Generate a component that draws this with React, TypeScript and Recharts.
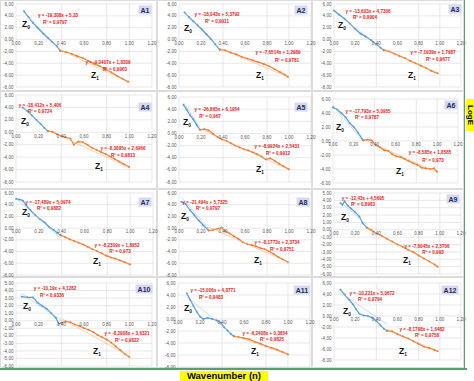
import React from "react";
import { LineChart, Line, XAxis, YAxis, CartesianGrid, ReferenceDot } from "recharts";

// x = wavenumber n, y = logE ; Z0 = blue segment, Z1 = orange segment
const xTicks = [0, 0.2, 0.4, 0.6, 0.8, 1.0, 1.2];
const yTicksEven = [6, 4, 2, 0, -2, -4, -6, -8];
const yTicksShort = [6, 4, 2, 0, -2, -4, -6];
const yTicksUnit = [5, 4, 3, 2, 1, 0, -1, -2, -3, -4, -5, -6];

const a1Z0 = [[0.07, 4.8], [0.11, 3.8], [0.15, 2.8], [0.19, 2.0], [0.24, 1.0], [0.28, 0.3], [0.32, -0.4], [0.36, -1.1], [0.39, -1.9]];
const a1Z1 = [[0.39, -1.9], [0.44, -2.1], [0.49, -2.4], [0.54, -2.8], [0.59, -3.1], [0.64, -3.6], [0.69, -4.1], [0.74, -4.5], [0.79, -5.0], [0.84, -5.5], [0.89, -6.1], [0.94, -6.6], [0.99, -7.1]];
const a2Z0 = [[0.05, 4.6], [0.09, 3.8], [0.13, 3.1], [0.17, 2.4], [0.21, 1.7], [0.25, 0.9], [0.29, 0.1], [0.33, -0.8], [0.37, -1.7]];
const a2Z1 = [[0.37, -1.7], [0.42, -1.8], [0.47, -2.2], [0.52, -2.5], [0.57, -2.9], [0.62, -3.2], [0.67, -3.5], [0.72, -3.8], [0.77, -4.1], [0.82, -4.5], [0.87, -5.0], [0.92, -5.5], [0.96, -5.9], [0.99, -6.3]];
const a3Z0 = [[0.0, 4.9], [0.05, 4.2], [0.1, 3.5], [0.15, 2.7], [0.2, 1.8], [0.25, 1.0], [0.3, 0.5], [0.35, -0.1], [0.4, -0.8], [0.44, -1.4], [0.47, -1.8]];
const a3Z1 = [[0.47, -1.8], [0.52, -2.0], [0.57, -2.4], [0.62, -2.8], [0.67, -3.1], [0.72, -3.6], [0.77, -4.0], [0.82, -4.4], [0.87, -4.8], [0.92, -5.3], [0.98, -5.7]];
const a4Z0 = [[0.06, 4.0], [0.1, 3.4], [0.14, 2.7], [0.18, 2.0], [0.22, 1.3], [0.25, 0.7], [0.28, 0.2]];
const a4Z1 = [[0.28, 0.2], [0.32, 0.1], [0.36, -0.3], [0.4, -0.6], [0.44, -0.8], [0.48, -1.0], [0.51, -2.0], [0.55, -1.5], [0.59, -1.6], [0.63, -2.0], [0.67, -2.5], [0.71, -2.8], [0.75, -3.2], [0.79, -3.5], [0.83, -3.9], [0.87, -4.3], [0.91, -4.7], [0.95, -5.1], [1.0, -5.6]];
const a5Z0 = [[0.04, 4.7], [0.07, 3.9], [0.1, 3.0], [0.13, 2.3], [0.16, 1.4], [0.19, 0.6]];
const a5Z1 = [[0.19, 0.6], [0.23, 0.7], [0.27, 0.5], [0.31, -0.1], [0.35, -0.6], [0.39, -1.0], [0.43, -1.2], [0.47, -1.6], [0.51, -2.0], [0.55, -2.3], [0.59, -2.6], [0.63, -2.8], [0.67, -3.1], [0.71, -3.4], [0.75, -3.8], [0.79, -4.3], [0.83, -4.1], [0.87, -4.5], [0.91, -5.0], [0.95, -5.4], [1.0, -5.9]];
const a6Z0 = [[0.0, 4.8], [0.04, 4.5], [0.08, 4.0], [0.12, 3.4], [0.16, 2.6], [0.2, 2.0], [0.24, 1.2], [0.29, 0.1]];
const a6Z1 = [[0.29, 0.1], [0.33, 0.2], [0.37, 0.1], [0.41, -0.6], [0.45, -0.9], [0.49, -1.3], [0.53, -1.4], [0.57, -1.9], [0.61, -2.2], [0.65, -2.3], [0.69, -2.6], [0.73, -2.9], [0.77, -3.2], [0.81, -3.4], [0.85, -3.8], [0.89, -3.9], [0.93, -4.0], [0.97, -3.9], [1.0, -4.4]];
const a7Z0 = [[0.0, 5.0], [0.03, 4.9], [0.06, 4.7], [0.09, 3.9], [0.13, 3.0], [0.17, 2.2], [0.21, 1.5], [0.25, 1.0], [0.29, 0.2], [0.33, -0.3], [0.36, -0.8], [0.39, -1.2]];
const a7Z1 = [[0.39, -1.2], [0.43, -1.5], [0.47, -1.9], [0.51, -2.2], [0.55, -2.5], [0.59, -2.8], [0.63, -3.2], [0.67, -3.6], [0.71, -3.9], [0.75, -4.3], [0.79, -4.7], [0.83, -5.0], [0.87, -5.2], [0.91, -5.5], [0.95, -5.8], [1.0, -6.2]];
const a8Z0 = [[0.02, 4.5], [0.06, 4.1], [0.1, 3.1], [0.14, 2.2], [0.18, 1.3], [0.22, 0.5], [0.27, -0.4]];
const a8Z1 = [[0.27, -0.4], [0.31, -0.3], [0.35, -0.1], [0.39, 0.1], [0.42, -0.5], [0.46, -0.9], [0.5, -1.4], [0.54, -1.8], [0.58, -2.4], [0.62, -2.7], [0.66, -2.9], [0.7, -3.1], [0.74, -3.4], [0.78, -3.6], [0.82, -4.0], [0.86, -4.4], [0.9, -4.9], [0.94, -5.3], [0.99, -5.8]];
const a9Z0 = [[0.06, 3.6], [0.08, 3.4], [0.1, 3.9], [0.13, 3.3], [0.16, 2.9], [0.2, 2.4], [0.24, 1.8], [0.27, 0.9], [0.31, 0.3]];
const a9Z1 = [[0.31, 0.3], [0.35, 0.0], [0.4, -0.5], [0.45, -0.8], [0.5, -1.2], [0.55, -1.6], [0.6, -2.0], [0.65, -2.3], [0.7, -2.7], [0.75, -3.0], [0.8, -3.5], [0.85, -3.9], [0.9, -4.3], [0.95, -4.7], [0.98, -5.0]];
const a10Z0 = [[0.05, 3.2], [0.1, 3.1], [0.15, 3.1], [0.19, 2.4], [0.23, 2.0], [0.27, 1.6], [0.31, 1.0], [0.35, 0.4], [0.38, -0.4], [0.4, -0.3]];
const a10Z1 = [[0.4, -0.3], [0.44, -0.1], [0.48, -0.2], [0.52, -0.5], [0.56, -0.7], [0.6, -1.0], [0.64, -1.2], [0.68, -1.5], [0.72, -1.9], [0.76, -2.2], [0.8, -2.5], [0.84, -2.9], [0.88, -3.4], [0.92, -3.9], [0.96, -4.4], [1.0, -4.8]];
const a11Z0 = [[0.08, 4.3], [0.11, 3.2], [0.14, 2.2], [0.17, 1.2], [0.2, 0.4], [0.23, 0.0], [0.27, 0.2], [0.31, 0.0], [0.35, -0.2], [0.39, -0.6], [0.42, -1.4], [0.45, -1.9], [0.48, -2.5], [0.51, -2.9]];
const a11Z1 = [[0.51, -2.9], [0.55, -3.0], [0.6, -3.2], [0.65, -3.4], [0.7, -3.8], [0.75, -4.1], [0.8, -4.5], [0.85, -4.8], [0.9, -5.1], [0.95, -5.5], [1.0, -5.9]];
const a12Z0 = [[0.06, 4.8], [0.1, 3.9], [0.14, 3.0], [0.18, 2.1], [0.21, 1.2], [0.24, 0.4], [0.28, 0.1], [0.32, 0.0], [0.36, -0.3], [0.4, -0.9], [0.44, -1.7], [0.47, -2.3], [0.5, -2.7]];
const a12Z1 = [[0.5, -2.7], [0.55, -2.8], [0.6, -3.3], [0.65, -3.7], [0.7, -4.1], [0.75, -4.6], [0.8, -5.1], [0.85, -5.6], [0.9, -5.8], [0.95, -6.2], [0.98, -6.4]];

// linear trendline end points
const fitZ0 = [
  [[0.07, 4.6], [0.39, -1.7]], [[0.05, 4.5], [0.37, -1.6]], [[0.0, 4.7], [0.47, -1.7]],
  [[0.06, 4.1], [0.28, 0.2]], [[0.04, 5.1], [0.19, 1.0]], [[0.0, 5.1], [0.29, -0.1]],
  [[0.0, 5.1], [0.39, -1.7]], [[0.02, 5.3], [0.27, -0.1]], [[0.06, 3.8], [0.31, 0.7]],
  [[0.05, 3.6], [0.42, -0.15]], [[0.08, 3.7], [0.51, -2.8]], [[0.06, 4.3], [0.5, -1.5]],
];
const fitZ1 = [
  [[0.39, -1.7], [0.99, -7.2]], [[0.37, -1.5], [0.99, -6.3]], [[0.47, -1.6], [0.98, -5.6]],
  [[0.28, 0.35], [1.0, -5.7]], [[0.19, 0.8], [1.0, -6.0]], [[0.29, 0.3], [1.0, -4.5]],
  [[0.39, -1.3], [1.0, -6.3]], [[0.27, 0.2], [0.99, -5.8]], [[0.31, 0.2], [0.98, -4.9]],
  [[0.4, 0.3], [1.0, -4.7]], [[0.51, -2.8], [1.0, -5.9]], [[0.5, -2.4], [0.98, -6.4]],
];

const names = ["A1", "A2", "A3", "A4", "A5", "A6", "A7", "A8", "A9", "A10", "A11", "A12"];
const z0Series = [a1Z0, a2Z0, a3Z0, a4Z0, a5Z0, a6Z0, a7Z0, a8Z0, a9Z0, a10Z0, a11Z0, a12Z0];
const z1Series = [a1Z1, a2Z1, a3Z1, a4Z1, a5Z1, a6Z1, a7Z1, a8Z1, a9Z1, a10Z1, a11Z1, a12Z1];
const yTickSets = [
  yTicksEven, yTicksEven, yTicksEven, yTicksEven, yTicksEven, yTicksShort,
  yTicksEven, yTicksEven, yTicksUnit, yTicksUnit, yTicksEven, yTicksEven,
];
const eqZ0 = [
  ["y = -19,308x + 5,33", "R² = 0,9797"], ["y = -18,043x + 5,3792", "R² = 0,9911"],
  ["y = -13,603x + 4,7306", "R² = 0,9904"], ["y = -18,412x + 5,406", "R² = 0,9724"],
  ["y = -26,865x + 6,1954", "R² = 0,967"], ["y = -17,793x + 5,0955", "R² = 0,9787"],
  ["y = -17,489x + 5,0974", "R² = 0,9882"], ["y = -21,494x + 5,7325", "R² = 0,9797"],
  ["y = -12,43x + 4,5695", "R² = 0,8963"], ["y = -10,19x + 4,1282", "R² = 0,9336"],
  ["y = -15,006x + 4,8771", "R² = 0,9483"], ["y = -10,221x + 5,0672", "R² = 0,9794"],
];
const eqZ1 = [
  ["y = -9,0407x + 1,8309", "R² = 0,9963"], ["y = -7,6514x + 1,2989", "R² = 0,9781"],
  ["y = -7,1939x + 1,7987", "R² = 0,9677"], ["y = -8,3895x + 2,6966", "R² = 0,9813"],
  ["y = -8,9924x + 2,5431", "R² = 0,9912"], ["y = -8,585x + 1,8585", "R² = 0,973"],
  ["y = -8,2309x + 1,8952", "R² = 0,973"], ["y = -8,1773x + 2,3734", "R² = 0,9751"],
  ["y = -7,6045x + 2,5706", "R² = 0,993"], ["y = -8,2908x + 3,6321", "R² = 0,9822"],
  ["y = -6,2408x + 0,3654", "R² = 0,9825"], ["y = -8,1798x + 1,6482", "R² = 0,9758"],
];

// layout: plot box [left, right, top, bottom] in page px, and label anchors
const plotBoxes = [
  [16, 152, 4, 87], [179, 311, 4, 87], [334, 461, 4, 87],
  [16, 152, 95, 182], [179, 311, 97, 182], [333, 458, 99, 183],
  [16, 153, 193, 275], [179, 311, 193, 275], [334, 461, 193, 274],
  [16, 152, 283, 366], [178, 310, 283, 367], [334, 461, 283, 360],
];
const anchors = [
  { e0: [58, 16, 55, 23], e1: [108, 63, 115, 70], z0: [26, 25], z1: [95, 76], tag: [145, 10] },
  { e0: [217, 15, 217, 22], e1: [278, 53, 287, 61], z0: [188, 29], z1: [260, 76], tag: [301, 10] },
  { e0: [368, 12, 365, 18], e1: [433, 53, 438, 60], z0: [342, 26], z1: [412, 76], tag: [455, 9] },
  { e0: [40, 106, 40, 112], e1: [123, 149, 123, 156], z0: [25, 122], z1: [99, 167], tag: [145, 107] },
  { e0: [217, 110, 210, 117], e1: [277, 147, 278, 154], z0: [187, 123], z1: [260, 170], tag: [301, 107] },
  { e0: [368, 112, 367, 118], e1: [430, 153, 433, 161], z0: [340, 128], z1: [400, 172], tag: [451, 105] },
  { e0: [48, 203, 49, 209], e1: [117, 246, 120, 252], z0: [26, 213], z1: [97, 262], tag: [145, 202] },
  { e0: [205, 203, 208, 209], e1: [277, 243, 282, 250], z0: [185, 217], z1: [258, 261], tag: [303, 202] },
  { e0: [363, 199, 363, 205], e1: [427, 247, 433, 253], z0: [345, 218], z1: [407, 261], tag: [453, 199] },
  { e0: [55, 289, 52, 296], e1: [127, 334, 127, 341], z0: [27, 307], z1: [97, 352], tag: [144, 289] },
  { e0: [213, 291, 211, 298], e1: [265, 334, 272, 340], z0: [188, 309], z1: [255, 352], tag: [302, 290] },
  { e0: [372, 294, 370, 300], e1: [422, 330, 427, 336], z0: [347, 312], z1: [403, 352], tag: [450, 290] },
];

const BLUE = "#5b9bd5";
const ORANGE = "#ed7d31";
const RED = "#e8231c";
const FONT = "'Liberation Sans', Arial, sans-serif";

const toPts = (arr: number[][]) => arr.map(([x, y]) => ({ x, y }));
const fmt = (v: number) => v.toFixed(2).replace(".", ",");

function Pos({ x, y, style, children }: any) {
  return (
    <div
      style={{
        position: "absolute",
        left: x,
        top: y,
        transform: "translate(-50%, -50%)",
        whiteSpace: "nowrap",
        lineHeight: 1,
        ...style,
      }}
    >
      {children}
    </div>
  );
}

function Panel({ i }: { i: number }) {
  const [L, R, T, B] = plotBoxes[i];
  const YW = 17;
  const m = { top: 4, right: 9, bottom: 4, left: 0 };
  const ticks = yTickSets[i];
  const w = R - L + YW + m.right;
  const h = B - T + m.top + m.bottom;
  return (
    <div style={{ position: "absolute", left: L - YW, top: T - m.top }}>
      <LineChart width={w} height={h} margin={m}>
        <CartesianGrid stroke="#d9d9d9" strokeWidth={0.6} />
        <XAxis type="number" dataKey="x" domain={[0, 1.2]} ticks={xTicks} hide />
        <YAxis
          type="number"
          domain={[ticks[ticks.length - 1], ticks[0]]}
          ticks={ticks}
          interval={0}
          width={YW}
          axisLine={false}
          tickLine={false}
          tickSize={0}
          tickMargin={2.5}
          tickFormatter={fmt}
          tick={{ fontSize: 4.6, fill: "#595959" }}
        />
        {xTicks.map((t) => (
          <ReferenceDot
            key={t}
            x={t}
            y={0}
            r={0}
            fill="none"
            stroke="none"
            label={{ value: fmt(t), position: "bottom", offset: 2, fontSize: 4.6, fill: "#595959" }}
          />
        ))}
        <Line
          data={toPts(z0Series[i])}
          dataKey="y"
          type="linear"
          stroke={BLUE}
          strokeWidth={1.2}
          dot={{ r: 0.8, fill: BLUE, stroke: BLUE, strokeWidth: 0.3 }}
          activeDot={false}
          isAnimationActive={false}
        />
        <Line
          data={toPts(z1Series[i])}
          dataKey="y"
          type="linear"
          stroke={ORANGE}
          strokeWidth={1.2}
          dot={{ r: 0.8, fill: ORANGE, stroke: ORANGE, strokeWidth: 0.3 }}
          activeDot={false}
          isAnimationActive={false}
        />
        <Line
          data={toPts(fitZ0[i])}
          dataKey="y"
          type="linear"
          stroke="#9dc3e6"
          strokeWidth={0.6}
          dot={false}
          activeDot={false}
          isAnimationActive={false}
        />
        <Line
          data={toPts(fitZ1[i])}
          dataKey="y"
          type="linear"
          stroke="#f4b183"
          strokeWidth={0.6}
          dot={false}
          activeDot={false}
          isAnimationActive={false}
        />
      </LineChart>
    </div>
  );
}

function Labels({ i }: { i: number }) {
  const a = anchors[i];
  const eq = { fontSize: 4.6, fontWeight: 700, color: RED };
  const z = { fontSize: 8.5, fontWeight: 700, color: "#111" };
  const sub = { fontSize: 4.8, verticalAlign: -2 };
  return (
    <>
      <Pos x={a.e0[0]} y={a.e0[1]} style={eq}>{eqZ0[i][0]}</Pos>
      <Pos x={a.e0[2]} y={a.e0[3]} style={eq}>{eqZ0[i][1]}</Pos>
      <Pos x={a.e1[0]} y={a.e1[1]} style={eq}>{eqZ1[i][0]}</Pos>
      <Pos x={a.e1[2]} y={a.e1[3]} style={eq}>{eqZ1[i][1]}</Pos>
      <Pos x={a.z0[0]} y={a.z0[1]} style={z}>
        Z<span style={sub}>0</span>
      </Pos>
      <Pos x={a.z1[0]} y={a.z1[1]} style={z}>
        Z<span style={sub}>1</span>
      </Pos>
      <Pos
        x={a.tag[0]}
        y={a.tag[1]}
        style={{
          fontSize: 7,
          fontWeight: 700,
          color: "#1f2d5c",
          background: "#d8d8f0",
          padding: "1px 2px",
        }}
      >
        {names[i]}
      </Pos>
    </>
  );
}

const colEdges = [0, 157, 312, 464];
const rowEdges = [0, 91, 189, 277, 368];

export default function App() {
  return (
    <div
      style={{
        position: "absolute",
        left: 0,
        top: 0,
        width: 474,
        height: 381,
        background: "#fff",
        overflow: "hidden",
        fontFamily: FONT,
      }}
    >
      {/* panel frames */}
      {rowEdges.slice(0, -1).map((top, r) =>
        colEdges.slice(0, -1).map((left, c) => (
          <div
            key={`f${r}${c}`}
            style={{
              position: "absolute",
              left,
              top,
              width: colEdges[c + 1] - left,
              height: rowEdges[r + 1] - top,
              boxSizing: "border-box",
              border: "1px solid #dcdcdc",
            }}
          />
        ))
      )}
      {names.map((n, i) => (
        <Panel key={n} i={i} />
      ))}
      {names.map((n, i) => (
        <Labels key={`l${n}`} i={i} />
      ))}
      {/* green frame lines */}
      <div style={{ position: "absolute", left: 0, top: 368, width: 467, height: 2, background: "#5f9e6e" }} />
      <div style={{ position: "absolute", left: 463.5, top: 0, width: 1.5, height: 369, background: "#5f9e6e" }} />
      {/* axis titles */}
      <div
        style={{
          position: "absolute",
          left: 466,
          top: 99,
          width: 8,
          height: 32,
          background: "#ffff00",
          writingMode: "vertical-rl",
          fontSize: 8,
          fontWeight: 700,
          lineHeight: "8px",
          textAlign: "center",
          color: "#000",
        }}
      >
        LogE
      </div>
      <div
        style={{
          position: "absolute",
          left: 180,
          top: 371,
          width: 88,
          height: 10,
          background: "#ffff00",
          fontSize: 9.5,
          fontWeight: 700,
          lineHeight: "10px",
          textAlign: "center",
          color: "#000",
          whiteSpace: "nowrap",
        }}
      >
        Wavenumber (n)
      </div>
    </div>
  );
}
